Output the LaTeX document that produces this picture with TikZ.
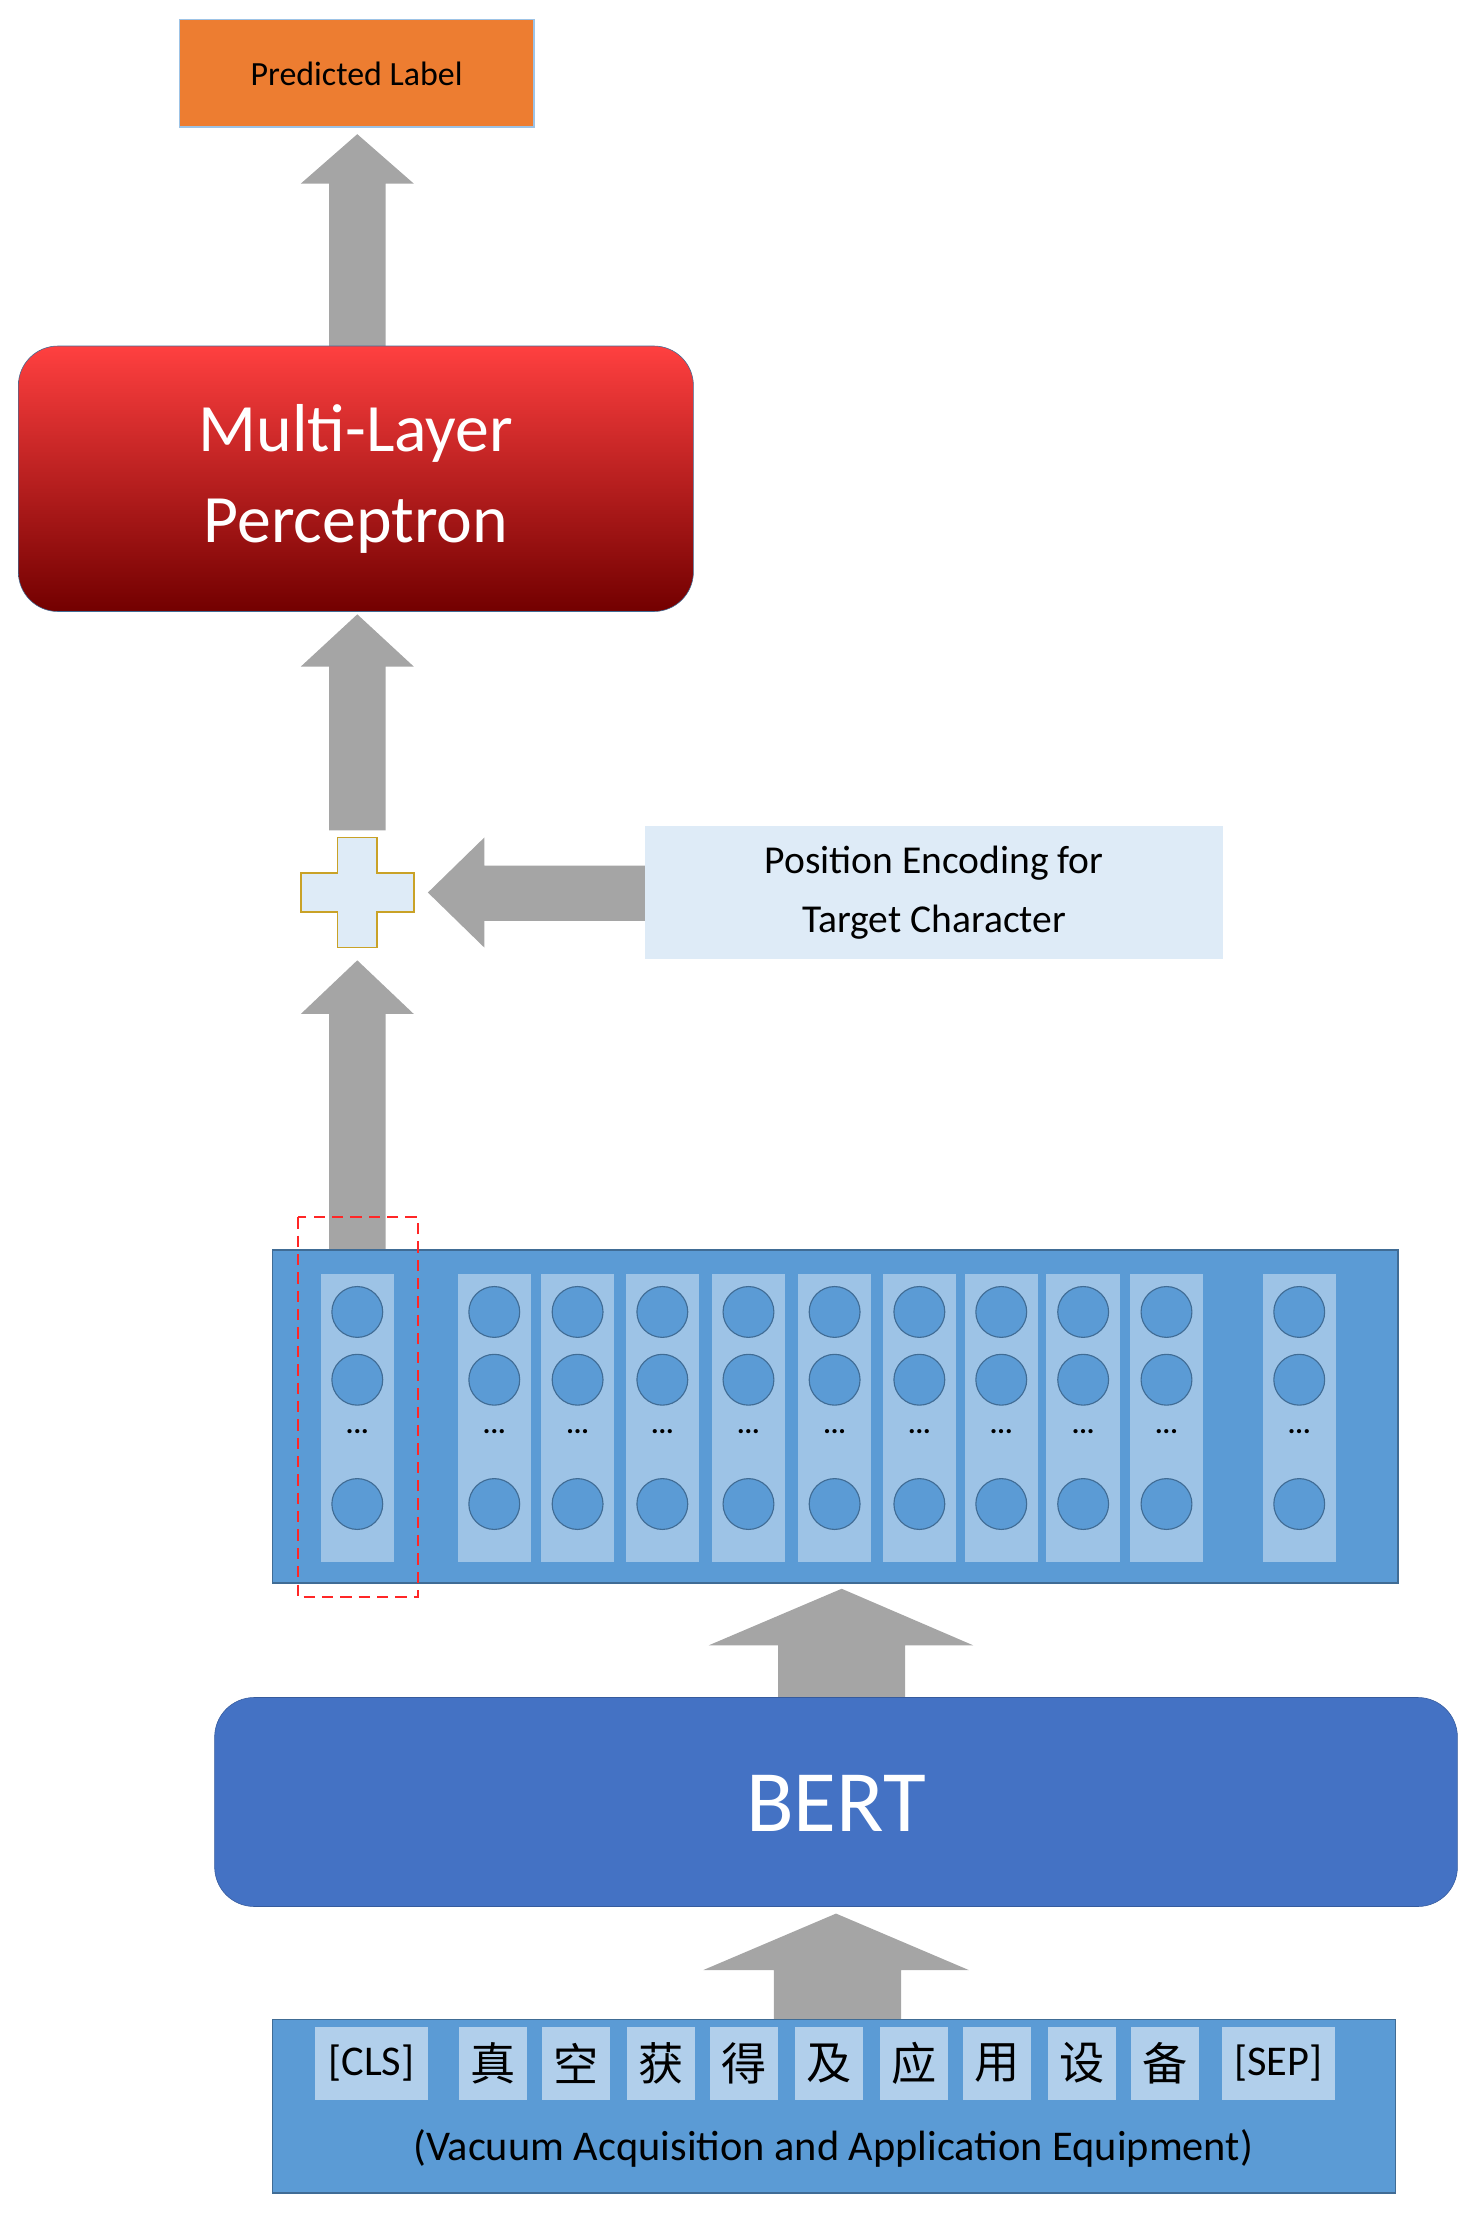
\documentclass[tikz,border=0pt]{standalone}
\usepackage{fontspec}
\setmainfont{Carlito}
\newfontfamily\cjk{Noto Sans CJK SC}
\definecolor{orng}{HTML}{ED7D31}
\definecolor{eblue}{HTML}{5B9BD5}
\definecolor{lblue}{HTML}{9DC3E6}
\definecolor{pale}{HTML}{DEEBF7}
\definecolor{bertc}{HTML}{4472C4}
\definecolor{arr}{HTML}{A5A5A5}
\definecolor{gold}{HTML}{C9A227}
\begin{document}
\begin{tikzpicture}[x=1pt,y=-1pt,
  garrow/.style={fill=arr,draw=none},
  col/.style={fill=lblue,draw=none},
  dot/.style={circle,fill=eblue,draw=eblue!70!black,line width=0.8pt,minimum size=36pt,inner sep=0pt},
  tok/.style={fill=lblue!80!white,inner sep=0pt,minimum height=52pt,font=\cjk\fontsize{32}{36}\selectfont,text=black}]
\useasboundingbox (0,0) rectangle (1045,1572);
% arrows
\fill[arr] (233,245) -- (233,130) -- (213,130) -- (253,95) -- (293,130) -- (273,130) -- (273,245) -- cycle;
\fill[arr] (233,588) -- (233,472) -- (213,472) -- (253,435) -- (293,472) -- (273,472) -- (273,588) -- cycle;
\fill[arr] (457,613) -- (343,613) -- (343,593) -- (303,632) -- (343,671) -- (343,652) -- (457,652) -- cycle;
\fill[arr] (233,885) -- (233,718) -- (213,718) -- (253,680) -- (293,718) -- (273,718) -- (273,885) -- cycle;
\fill[arr] (551,1203) -- (551,1165) -- (502,1165) -- (596,1125) -- (689,1165) -- (641,1165) -- (641,1203) -- cycle;
\fill[arr] (548,1430) -- (548,1395) -- (498,1395) -- (592,1355) -- (686,1395) -- (638,1395) -- (638,1430) -- cycle;
% predicted label
\node[draw=eblue!60,fill=orng,line width=1pt,minimum width=251pt,minimum height=76pt,font=\fontsize{24}{28}\selectfont] (pl) at (252.5,52) {Predicted Label};
% MLP
\shade[top color=red!75!white,bottom color=red!45!black,rounded corners=28pt,draw=eblue!70!black] (13,245) rectangle (491,433);
\node[text=white,align=center,font=\fontsize{48}{64}\selectfont] (mlp) at (252,339) {Multi-Layer\\Perceptron};
% plus
\filldraw[fill=pale,draw=gold,line width=1.2pt] (239,593) -- (267,593) -- (267,618) -- (293,618) -- (293,646) -- (267,646) -- (267,671) -- (239,671) -- (239,646) -- (213,646) -- (213,618) -- (239,618) -- cycle;
\coordinate (plus) at (253,632);
% position
\node[fill=pale,minimum width=409pt,minimum height=94pt,align=center,font=\fontsize{28}{42}\selectfont] (pos) at (661.5,632) {Position Encoding for\\Target Character};
% embedding box
\filldraw[fill=eblue,draw=eblue!70!black,line width=1pt] (193,885) rectangle (990,1121);
\foreach \x in {253,350,409,469,530,591,651,709,767,826,920}{
  \fill[col] (\x-26,902) rectangle (\x+26,1106);
  \node[dot] at (\x,929) {};
  \node[dot] at (\x,977) {};
  \node[dot] at (\x,1065) {};
  \node[font=\bfseries\fontsize{20}{20}\selectfont] at (\x,1014) {...};
}
\draw[red!85!white,dashed,line width=1.5pt,dash pattern=on 8pt off 5pt] (211,862) rectangle (296,1131);
% BERT
\filldraw[fill=bertc,draw=bertc!80!black,rounded corners=28pt] (152,1202) rectangle (1032,1350);
\node[text=white,font=\fontsize{62}{70}\selectfont] (bert) at (592,1277) {BERT};
% input
\filldraw[fill=eblue,draw=eblue!70!black,line width=1pt] (193,1430) rectangle (988,1553);
\node[tok,minimum width=80pt,font=\fontsize{30}{34}\selectfont] at (263,1461) {[CLS]};
\foreach \x/\c in {349/真,408/空,468/获,527/得,587/及,647/应,706/用,766/设,825/备}{
  \node[tok,minimum width=48pt] at (\x,1461) {\c};
}
\node[tok,minimum width=80pt,font=\fontsize{30}{34}\selectfont] at (905,1461) {[SEP]};
\node[font=\fontsize{30}{34}\selectfont] (sub) at (590,1521) {(Vacuum Acquisition and Application Equipment)};
\end{tikzpicture}
\end{document}
